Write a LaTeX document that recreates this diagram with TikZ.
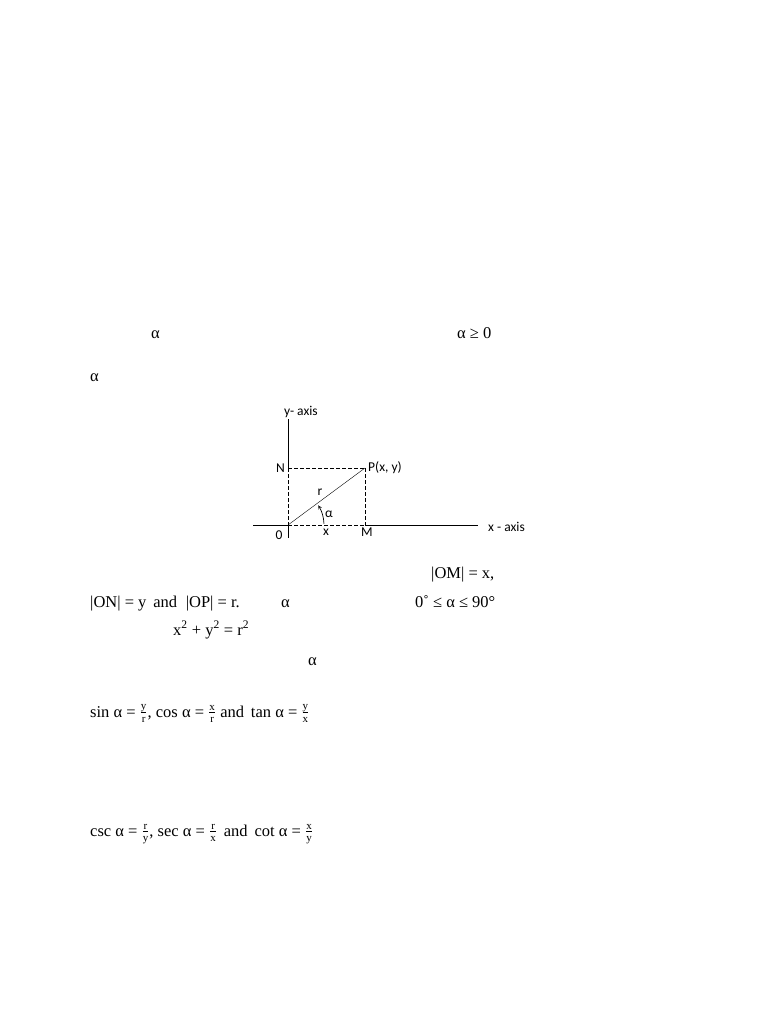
\documentclass[tikz,border=0pt]{standalone}
\usepackage{fontspec}
\setmainfont{Liberation Serif}
\setsansfont{Carlito}
\usetikzlibrary{arrows}
\newcommand{\ratiofrac}[2]{$\frac{\mbox{\fontsize{11}{11}\selectfont #1}}{\mbox{\fontsize{11}{11}\selectfont #2}}$}

\begin{document}
\begin{tikzpicture}[x=1pt, y=-1pt,
        lbl/.style={font=\sffamily\fontsize{13.5}{15}\selectfont, inner sep=0pt},
        txt/.style={font=\fontsize{16.5}{18}\selectfont, anchor=base west, inner sep=0pt},
        dsh/.style={dash pattern=on 3.5pt off 2.5pt}]
        \useasboundingbox (0,0) rectangle (768,1024);

        % Texto superior
        \node[txt] (a1) at (151,338) {α};
        \node[txt] (a2) at (457,338) {α ≥ 0};
        \node[txt] (a3) at (90,381) {α};

        % Puntos
        \coordinate (O) at (288,525);
        \coordinate (P) at (365,468);
        \coordinate (N) at (288,468);
        \coordinate (M) at (365,525);
        \coordinate (ytop) at (288,419);
        \coordinate (ybot) at (288,538);
        \coordinate (xl) at (253,525);
        \coordinate (xr) at (478,525);

        % Ejes
        \draw (ytop) -- (N);
        \draw[dsh] (N) -- (O);
        \draw (O) -- (ybot);
        \draw (xl) -- (O);
        \draw[dsh] (O) -- (M);
        \draw (M) -- (xr);

        % Proyecciones
        \draw[dsh] (N) -- (P);
        \draw[dsh] (P) -- (M);

        % Radio y angulo
        \draw (O) -- (P);
        \draw[->, >=stealth, line width=0.7pt] ([shift={(-2:36)}]O) arc[start angle=-2, end angle=-33, radius=36];

        % Etiquetas
        \node[lbl, anchor=west] (ylab) at (284,412) {y- axis};
        \node[lbl, anchor=east] (Nlab) at (285,468) {N};
        \node[lbl, anchor=west] (Plab) at (368,468) {P(x, y)};
        \node[lbl] (rlab) at (320,492) {r};
        \node[lbl] (alab) at (329,514) {α};
        \node[lbl] (Olab) at (279,535) {0};
        \node[lbl] (xlab) at (326,532) {x};
        \node[lbl] (Mlab) at (367,532) {M};
        \node[lbl, anchor=west] (xaxis) at (488,527) {x - axis};

        % Relaciones
        \node[txt] (om) at (431,578) {|OM| = x,};
        \node[txt] (on) at (90,607) {|ON| = y\, and\; |OP| = r.};
        \node[txt] (a4) at (281,607) {α};
        \node[txt] (rng) at (415,607) {0˚ ≤ α ≤ 90°};
        \node[txt] (pit) at (173,635) {x\textsuperscript{2} + y\textsuperscript{2} = r\textsuperscript{2}};
        \node[txt] (a5) at (308,665) {α};

        % Razones trigonometricas
        \node[txt] (trig1) at (90,717) {sin α = \ratiofrac{y}{r}, cos α = \ratiofrac{x}{r} and\, tan α = \ratiofrac{y}{x}};
        \node[txt] (trig2) at (90,836) {csc α = \ratiofrac{r}{y}, sec α = \ratiofrac{r}{x}\, and\, cot α = \ratiofrac{x}{y}};
\end{tikzpicture}
\end{document}
